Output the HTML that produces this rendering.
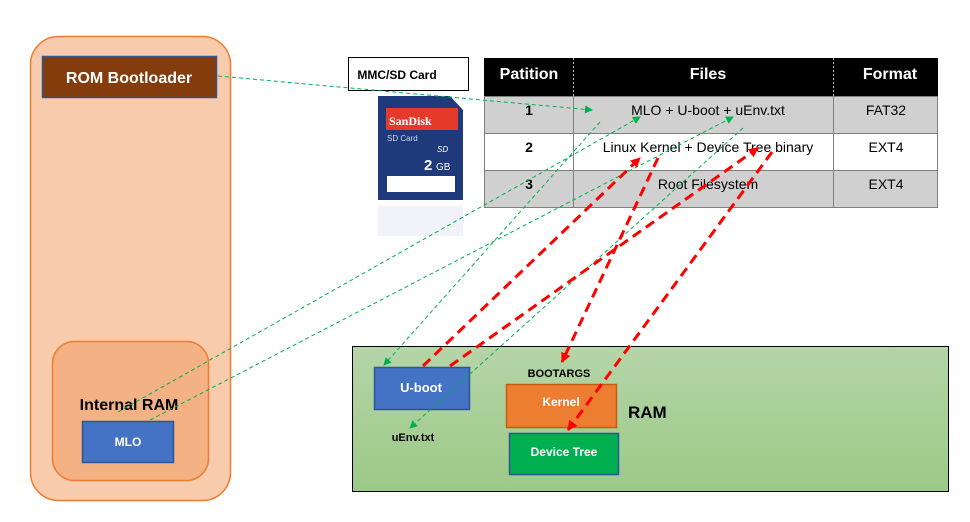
<!DOCTYPE html>
<html><head><meta charset="utf-8"><style>
body{margin:0;background:#fff;width:970px;height:517px;overflow:hidden;font-family:"Liberation Sans",sans-serif}
</style></head><body>
<svg width="970" height="517" xmlns="http://www.w3.org/2000/svg" font-family="Liberation Sans, sans-serif">
<defs>
<linearGradient id="g" x1="0" y1="0" x2="0" y2="1"><stop offset="0" stop-color="#b5d5a8"/><stop offset="1" stop-color="#9cc987"/></linearGradient>
<marker id="ag" markerWidth="8" markerHeight="8" refX="7" refY="4" orient="auto" markerUnits="userSpaceOnUse"><path d="M0,0 L8,4 L0,8z" fill="#00b050"/></marker>
<marker id="ar" markerWidth="10" markerHeight="10" refX="9" refY="5" orient="auto" markerUnits="userSpaceOnUse"><path d="M0,0 L10,5 L0,10z" fill="#ff0000"/></marker>
</defs>
<!-- left -->
<rect x="30.5" y="36.5" width="200" height="464" rx="28" fill="#f8cbad" stroke="#ed7d31" stroke-width="1.5"/>
<rect x="42.5" y="56.5" width="174" height="41" fill="#843c0c" stroke="#2f5597" stroke-width="1.5"/>
<text x="129" y="83" text-anchor="middle" fill="#fff" font-weight="bold" font-size="16">ROM Bootloader</text>
<rect x="52.5" y="341.5" width="156" height="139" rx="22" fill="#f4b183" stroke="#ed7d31" stroke-width="1.5"/>
<text x="129" y="410" text-anchor="middle" font-weight="bold" font-size="16">Internal RAM</text>
<rect x="82.5" y="421.5" width="91" height="41" fill="#4472c4" stroke="#2f5597" stroke-width="1.5"/>
<text x="128" y="446" text-anchor="middle" fill="#fff" font-weight="bold" font-size="12">MLO</text>
<!-- MMC -->
<rect x="348.5" y="57.5" width="120" height="33" fill="#fff" stroke="#000"/>
<text x="397" y="79" text-anchor="middle" font-weight="bold" font-size="12">MMC/SD Card</text>
<!-- SD card -->
<path d="M378,96 L450,96 L463,110 L463,200 L378,200 Z" fill="#1f3a7a"/>
<rect x="386" y="108" width="72" height="22" fill="#e53a2a"/>
<text x="389" y="125" fill="#fff" font-weight="bold" font-size="12" font-family="Liberation Serif, serif">SanDisk</text>
<text x="387" y="141" fill="#cfd8ee" font-size="8">SD Card</text>
<text x="437" y="152" fill="#fff" font-size="8" font-style="italic">SD</text>
<text x="424" y="170" fill="#fff" font-weight="bold" font-size="15">2</text><text x="436" y="170" fill="#fff" font-size="10">GB</text>
<rect x="387" y="176" width="68" height="16" fill="#fff"/>
<rect x="378" y="206" width="85" height="30" fill="#eef0f6" opacity="0.8"/>
<!-- table -->
<rect x="484" y="58" width="454" height="38" fill="#000"/>
<rect x="484.5" y="96.5" width="453" height="37" fill="#d0d0d0" stroke="#7f7f7f"/>
<rect x="484.5" y="133.5" width="453" height="37" fill="#fff" stroke="#7f7f7f"/>
<rect x="484.5" y="170.5" width="453" height="37" fill="#d0d0d0" stroke="#7f7f7f"/>
<line x1="573.5" y1="96" x2="573.5" y2="208" stroke="#7f7f7f"/>
<line x1="833.5" y1="96" x2="833.5" y2="208" stroke="#7f7f7f"/>
<line x1="573.5" y1="58" x2="573.5" y2="96" stroke="#bbb" stroke-dasharray="2,2"/>
<line x1="833.5" y1="58" x2="833.5" y2="96" stroke="#bbb" stroke-dasharray="2,2"/>
<g font-family="Liberation Sans, sans-serif" text-anchor="middle">
<text x="529" y="79" fill="#fff" font-weight="bold" font-size="16">Patition</text>
<text x="708" y="79" fill="#fff" font-weight="bold" font-size="16">Files</text>
<text x="890" y="79" fill="#fff" font-weight="bold" font-size="16">Format</text>
<text x="529" y="115" font-weight="bold" font-size="14">1</text>
<text x="529" y="152" font-weight="bold" font-size="14">2</text>
<text x="529" y="189" font-weight="bold" font-size="14">3</text>
<text x="708" y="115" font-size="14">MLO + U-boot + uEnv.txt</text>
<text x="708" y="152" font-size="14">Linux Kernel + Device Tree binary</text>
<text x="708" y="189" font-size="14">Root Filesystem</text>
<text x="886" y="115" font-size="14">FAT32</text>
<text x="886" y="152" font-size="14">EXT4</text>
<text x="886" y="189" font-size="14">EXT4</text>
</g>
<!-- RAM -->
<rect x="352.5" y="346.5" width="596" height="145" fill="url(#g)" stroke="#000"/>
<rect x="374.5" y="367.5" width="95" height="42" fill="#4472c4" stroke="#2f5597" stroke-width="1.5"/>
<text x="421" y="392" text-anchor="middle" fill="#fff" font-weight="bold" font-size="13">U-boot</text>
<text x="559" y="377" text-anchor="middle" font-weight="bold" font-size="11">BOOTARGS</text>
<rect x="506.5" y="384.5" width="110" height="43" fill="#ed7d31" stroke="#c55a11" stroke-width="1.5"/>
<text x="561" y="406" text-anchor="middle" fill="#fff" font-weight="bold" font-size="12">Kernel</text>
<rect x="509.5" y="433.5" width="109" height="41" fill="#00b050" stroke="#2f5597" stroke-width="1.5"/>
<text x="564" y="456" text-anchor="middle" fill="#fff" font-weight="bold" font-size="12">Device Tree</text>
<text x="628" y="418" font-weight="bold" font-size="17">RAM</text>
<text x="413" y="441" text-anchor="middle" font-weight="bold" font-size="11">uEnv.txt</text>
<!-- green lines -->
<g stroke="#00b050" stroke-width="1" stroke-dasharray="4,3" fill="none" marker-end="url(#ag)">
<line x1="218" y1="76" x2="592" y2="110"/>
<line x1="118" y1="412" x2="640" y2="117"/>
<line x1="150" y1="420" x2="733" y2="117"/>
<line x1="600" y1="122" x2="384" y2="365"/>
<line x1="743" y1="128" x2="410" y2="428"/>
</g>
<!-- red lines -->
<g stroke="#ff0000" stroke-width="3" stroke-dasharray="10,6" fill="none" marker-end="url(#ar)">
<line x1="423" y1="366" x2="640" y2="158"/>
<line x1="450" y1="366" x2="758" y2="148"/>
<line x1="658" y1="158" x2="562" y2="362"/>
<line x1="772" y1="152" x2="568" y2="430"/>
</g>
</svg>
</body></html>
